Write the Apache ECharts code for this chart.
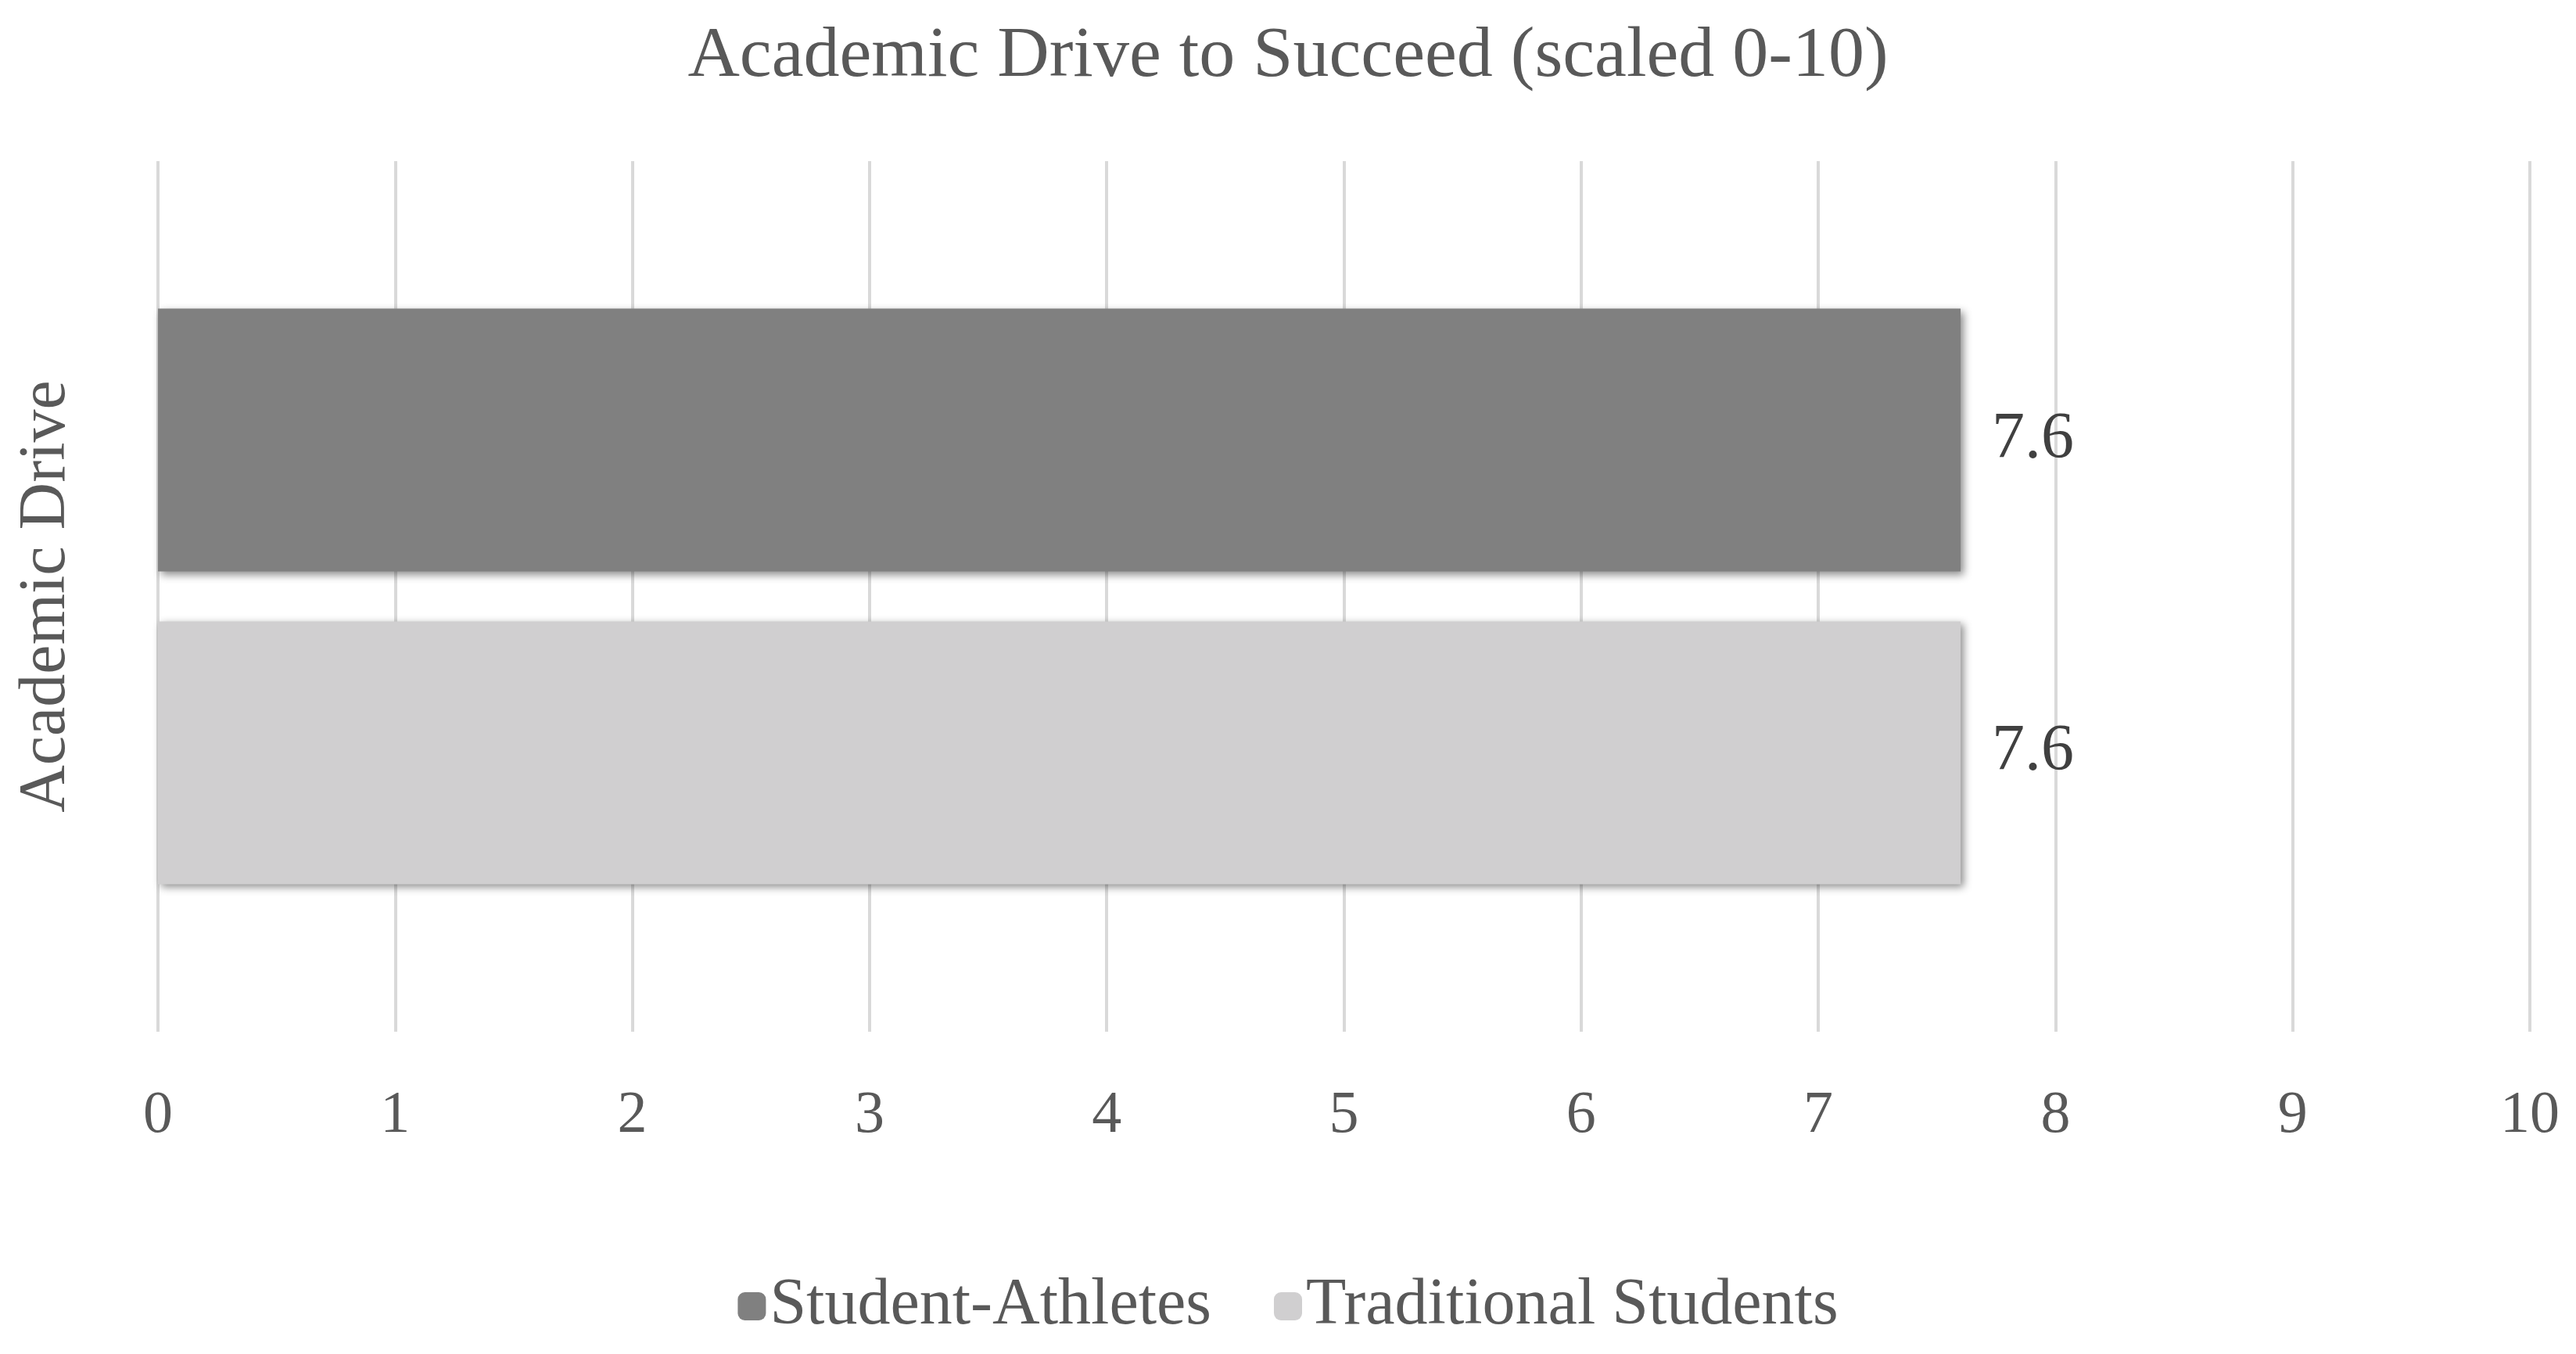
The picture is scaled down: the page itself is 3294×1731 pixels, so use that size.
<!DOCTYPE html>
<html>
<head>
<meta charset="utf-8">
<script src="https://cdn.jsdelivr.net/npm/echarts@6/dist/echarts.min.js"></script>
<style>html,body{margin:0;background:#fff}#c{width:3294px;height:1731px}</style>
</head>
<body>
<div id="c"></div>
<script>
const categories = ['Academic Drive'];
const seriesNames = ['Student-Athletes', 'Traditional Students'];
const athletes = [7.6];
const traditional = [7.6];
const ticks = [0, 10, 1];

const font = 'Liberation Serif';
const chart = echarts.init(document.getElementById('c'));
const shadow = { shadowColor: 'rgba(0,0,0,0.45)', shadowBlur: 10, shadowOffsetX: 4, shadowOffsetY: 4 };
chart.setOption({
  textStyle: { fontFamily: font },
  title: {
    text: 'Academic Drive to Succeed (scaled 0-10)',
    left: 'center', top: 22,
    textStyle: { fontFamily: font, fontSize: 92, fontWeight: 'normal', color: '#595959' }
  },
  legend: {
    bottom: 14, itemWidth: 36, itemHeight: 36, itemGap: 80,
    textStyle: { fontFamily: font, fontSize: 84, color: '#595959' },
    data: seriesNames
  },
  grid: { left: 202, right: 59, top: 206, bottom: 412 },
  xAxis: {
    type: 'value', min: ticks[0], max: ticks[1], interval: ticks[2],
    axisLine: { show: false }, axisTick: { show: false },
    splitLine: { lineStyle: { color: '#d9d9d9', width: 4 } },
    axisLabel: { fontFamily: font, fontSize: 76, color: '#595959', margin: 70 }
  },
  yAxis: {
    type: 'category', data: categories, inverse: true,
    axisLine: { show: false }, axisTick: { show: false },
    axisLabel: {
      rotate: 90, fontFamily: font, fontSize: 84, color: '#595959', margin: 100
    }
  },
  series: [
    { name: seriesNames[0], type: 'bar', data: athletes, barWidth: 336, barGap: '19%',
      itemStyle: Object.assign({ color: '#808080' }, shadow),
      label: { show: true, position: 'right', distance: 40, fontFamily: font, fontSize: 84, color: '#404040' } },
    { name: seriesNames[1], type: 'bar', data: traditional, barWidth: 336,
      itemStyle: Object.assign({ color: '#d0cfd0' }, shadow),
      label: { show: true, position: 'right', distance: 40, fontFamily: font, fontSize: 84, color: '#404040' } }
  ]
});
</script>
</body>
</html>
